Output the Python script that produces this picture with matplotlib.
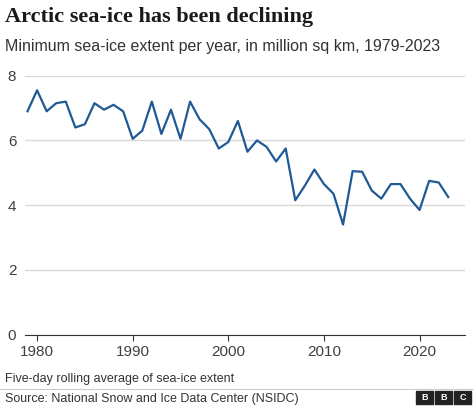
import matplotlib
matplotlib.use("Agg")
import matplotlib.pyplot as plt
from matplotlib.patches import Rectangle

years = list(range(1979, 2024))
extent = [6.9, 7.55, 6.9, 7.15, 7.2, 6.4, 6.5, 7.15, 6.95, 7.1, 6.9, 6.05, 6.3, 7.2, 6.2,
          6.95, 6.05, 7.2, 6.65, 6.35, 5.75, 5.95, 6.6, 5.65, 6.0, 5.8, 5.35, 5.75, 4.15,
          4.6, 5.1, 4.65, 4.35, 3.4, 5.05, 5.03, 4.45, 4.2, 4.65, 4.65, 4.2, 3.85, 4.75,
          4.7, 4.25]
yticks = [0, 2, 4, 6, 8]
xticks = [1980, 1990, 2000, 2010, 2020]

plt.rcParams['font.family'] = ['Liberation Sans', 'DejaVu Sans']
fig = plt.figure(figsize=(4.74, 4.07), dpi=100)
ax = fig.add_axes([0.052, 0.178, 0.93, 0.636])
ax.plot(years, extent, color='#1f5a94', lw=1.6)
ax.set_xlim(1978.7, 2024.8)
ax.set_ylim(0, 8)
ax.set_yticks(yticks)
ax.set_xticks(xticks)
ax.grid(axis='y', color='#d9d9d9', lw=1)
ax.set_axisbelow(True)
for s in ['top', 'right', 'left']:
    ax.spines[s].set_visible(False)
ax.spines['bottom'].set_color('#333333')
ax.tick_params(axis='y', length=0, labelsize=11, colors='#404040', pad=6)
ax.tick_params(axis='x', length=4, labelsize=11, colors='#404040', color='#333333')

fig.text(0.01, 0.945, 'Arctic sea-ice has been declining', fontsize=16, fontweight='bold',
         family=['Liberation Serif', 'DejaVu Serif'], color='#1a1a1a')
fig.text(0.01, 0.875, 'Minimum sea-ice extent per year, in million sq km, 1979-2023',
         fontsize=11.5, color='#333333')
fig.text(0.01, 0.062, 'Five-day rolling average of sea-ice extent', fontsize=9, color='#333333')
fig.add_artist(plt.Line2D([0, 1], [0.045, 0.045], color='#cccccc', lw=0.8, transform=fig.transFigure))
fig.text(0.01, 0.012, 'Source: National Snow and Ice Data Center (NSIDC)', fontsize=9, color='#333333')
for i, ch in enumerate('BBC'):
    x0 = 0.878 + i * 0.04
    fig.add_artist(Rectangle((x0, 0.008), 0.035, 0.032, color='#222222', transform=fig.transFigure))
    fig.text(x0 + 0.0175, 0.024, ch, fontsize=6.5, fontweight='bold', color='white', ha='center', va='center')
fig.savefig('out.png', dpi=100)
